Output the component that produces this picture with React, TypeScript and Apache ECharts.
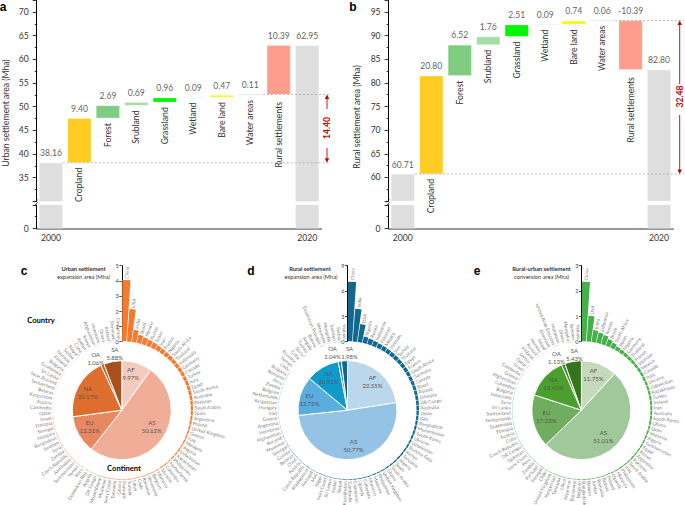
import React, { useEffect, useRef } from "react";
import * as echarts from "echarts";

const FONT = "Lato";

// ---- waterfall data ----
const stepNames = ["2000", "Cropland", "Forest", "Srubland", "Grassland", "Wetland", "Bare land", "Water areas", "Rural settlements", "2020"];
const urbanStart = 38.16;
const urbanDeltas = [9.4, 2.69, 0.69, 0.96, 0.09, 0.47, 0.11, 10.39];
const urbanEnd = 62.95;
const ruralStart = 60.71;
const ruralDeltas = [20.8, 6.52, 1.76, 2.51, 0.09, 0.74, 0.06, -10.39];
const ruralEnd = 82.8;
const stepColors = ["#DEDEDE", "#FFCC22", "#80CC80", "#A6DCA6", "#00F500", "#A8F5F5", "#F8F800", "#B4C7E7", "#FF9C8C", "#DEDEDE"];

// ---- country bars ----
const countriesC = ["China","USA","India","Brazil","Mexico","Russia","Japan","Iran","France","Nigeria","South Africa","Thailand","Indonesia","Germany","Canada","Turkey","Italy","Egypt","South Korea","Australia","Pakistan","Saudi Arabia","Spain","Argentina","Poland","United Kingdom","Greece","Iraq","Malaysia","Algeria","Uzbekistan","Kazakhstan","Philippines","Netherlands","Colombia","Ukraine","Morocco","Belgium","Venezuela","Romania","Chile","Libya","Tunisia","Portugal","Ghana","Tanzania","Ivory Coast","Myanmar","Mozambique","DR Congo","Angola","Dominican Rep.","Peru","Yemen","Turkmenistan","Azerbaijan","Czech Republic","Zambia","Syria","Sweden","Bangladesh","Hungary","Senegal","Ethiopia","Israel","Qatar","Cambodia","Austria","Kyrgyzstan","Belarus","Switzerland","New Zealand","Sri Lanka","Guatemala","Bulgaria","Finland","Norway","Serbia","Nepal","Cuba","Jordan","Kenya","Afghanistan","Honduras","Oman","Ireland","Denmark","Cameroon"];
const valuesC = [4.05,2.15,.82,.55,.48,.42,.38,.34,.31,.29,
  .27,.25,.24,.23,.22,.21,.2,.19,.18,.17,
  .16,.15,.14,.13,.12,.11,.1,.09,.09,.08,
  .08,.07,.07,.06,.06,.06,.05,.05,.05,.04,
  .04,.04,.04,.03,.03,.03,.03,.03,.03,.02,
  .02,.02,.02,.02,.02,.02,.02,.02,.02,.02,
  .02,.02,.02,.02,.02,.01,.01,.01,.01,.01,
  .01,.01,.01,.01,.01,.01,.01,.01,.01,.01,
  .01,.01,.01,.01,.01,.01,.01,.01];
const countriesD = ["China","India","USA","Nigeria","Russia","Indonesia","Pakistan","Mexico","Vietnam","Iran","Turkey","Thailand","Egypt","France","South Africa","Germany","Canada","Brazil","Poland","Ethiopia","DR Congo","Australia","Japan","Italy","Bangladesh","Mozambique","South Korea","Ukraine","Uzbekistan","Burkina Faso","Kenya","Tanzania","Algeria","Spain","Saudi Arabia","Ghana","United Kingdom","Philippines","Malaysia","Morocco","Colombia","Uganda","Cameroon","Cambodia","Kazakhstan","Nepal","Sudan","Sri Lanka","Ivory Coast","Niger","Mali","Portugal","Madagascar","Czech Republic","Austria","Chad","Belarus","Guinea","Senegal","Myanmar","Burundi","Afghanistan","Honduras","Argentina","Greece","Iraq","Hungary","Kyrgyzstan","Netherlands","Belgium","Zambia","Peru","Romania","Bulgaria","Chile","Yemen","Ecuador","Cuba","Syria","Tunisia","Angola","Bolivia","Dominican Republic","Venezuela","Mongolia","Sweden","Serbia","Malawi"];
const valuesD = [7.1,3.9,2.15,.78,.7,.62,.58,.55,.52,.5,
  .48,.46,.44,.42,.4,.38,.36,.35,.34,.33,
  .32,.3,.28,.27,.26,.25,.24,.22,.21,.2,
  .19,.18,.17,.16,.15,.14,.13,.12,.11,.1,
  .1,.09,.09,.08,.08,.07,.07,.06,.06,.06,
  .05,.05,.05,.04,.04,.04,.04,.03,.03,.03,
  .03,.03,.02,.02,.02,.02,.02,.02,.02,.02,
  .02,.02,.02,.02,.01,.01,.01,.01,.01,.01,
  .01,.01,.01,.01,.01,.01,.01,.01];
const countriesE = ["China","USA","India","Indonesia","Russia","Brazil","South Africa","Japan","Nigeria","Germany","Thailand","France","Vietnam","Mexico","Canada","Italy","Ukraine","Uzbekistan","Kazakhstan","Turkey","Ireland","Iran","Australia","South Korea","Ghana","Spain","Malaysia","Algeria","Turkmenistan","Egypt","Kenya","Argentina","Pakistan","Saudi Arabia","Iraq","Philippines","Morocco","Uganda","Poland","Bolivia","Romania","Jordan","Belarus","Bangladesh","Belgium","Botswana","Myanmar","Libya","Tanzania","Kyrgyzstan","United Kingdom","Chile","Senegal","Portugal","Zambia","Peru","Ivory Coast","Tajikistan","DR Congo","Czech Republic","Cuba","Austria","Ethiopia","Guatemala","Netherlands","Switzerland","Sri Lanka","Syria","Venezuela","Bulgaria","Colombia","Afghanistan","Greece","Cambodia","Israel","Qatar","Serbia","Finland","Kuwait","Norway","Nepal","Denmark","United Arab Emirates","Honduras","Oman","Mongolia","Sweden","Malawi"];
const valuesE = [2.36,1.02,.48,.42,.38,.28,.22,.16,.14,.13,
  .12,.11,.1,.098,.095,.09,.088,.085,.082,.08,
  .078,.076,.074,.072,.07,.067,.064,.06,.058,.055,
  .052,.05,.048,.045,.042,.04,.038,.036,.034,.032,
  .03,.028,.026,.025,.024,.023,.022,.021,.02,.02,
  .019,.018,.017,.016,.015,.015,.014,.014,.013,.013,
  .012,.012,.011,.011,.01,.01,.01,.009,.009,.009,
  .008,.008,.008,.007,.007,.007,.006,.006,.006,.006,
  .005,.005,.005,.005,.005,.005,.005,.005];

// ---- continents ----
const continents = ["AF", "AS", "EU", "NA", "OA", "SA"];
const sharesC = [9.97, 50.62, 12.31, 20.17, 1.06, 5.88];
const sharesD = [22.55, 50.77, 12.75, 10.91, 1.04, 1.98];
const sharesE = [11.75, 51.01, 17.23, 13.45, 1.13, 5.43];
const pieColorsC = ["#F5CBBF", "#F0AE98", "#E88860", "#DE6E2E", "#C8612A", "#A8511F"];
const pieColorsD = ["#BBD7EC", "#95C3E6", "#5AAEDF", "#109ACC", "#1C86B5", "#0F6690"];
const pieColorsE = ["#C5DABB", "#A0C89A", "#70AD5E", "#4A9F2D", "#3F8A28", "#33741E"];
// label offsets from each pie's centre, in px
const pieLabelOffsetsC = [[9, -37], [30, 16], [-32, 16], [-34, -18], [-26, -52], [-7, -57]];
const pieLabelOffsetsD = [[25, -29], [6, 35], [-38, -11], [-19, -33], [-15, -58], [2, -58]];
const pieLabelOffsetsE = [[12, -36], [22, 26], [-35, 6], [-28, -27], [-25, -53], [-7, -56]];

const TXT = "#333";

function buildSteps(start: number, deltas: number[], end: number) {
  const base = [0];
  const size = [start];
  const tops = [start];
  const shown = [start];
  let run = start;
  deltas.forEach((d) => {
    const next = run + d;
    base.push(Math.min(run, next));
    size.push(Math.abs(d));
    tops.push(Math.max(run, next));
    shown.push(d);
    run = next;
  });
  base.push(0);
  size.push(end);
  tops.push(end);
  shown.push(end);
  return { base, size, tops, shown };
}

type WF = {
  gi: number; left: number; width: number; upperTop: number; upperBottom: number; lowerTop: number;
  min: number; max: number; start: number; deltas: number[]; end: number;
  lineLo: number; lineHi: number; dashLoFrom: number; dashHiFrom: number; dashTo: number;
  arrowX: number; total: string; gapTop: number; gapBottom: number; textY: number; ruralDist: number;
};

function waterfall(o: WF, out: any) {
  const s = buildSteps(o.start, o.deltas, o.end);
  const upper = o.gi;
  const lower = o.gi + 1;
  const axisFont = { fontFamily: FONT, fontSize: 8.6, color: TXT };
  out.grid.push(
    { left: o.left, width: o.width, top: o.upperTop, height: o.upperBottom - o.upperTop },
    { left: o.left, width: o.width, top: o.lowerTop, height: 228.5 - o.lowerTop }
  );
  out.xAxis.push(
    { gridIndex: upper, type: "category", data: stepNames, show: false },
    {
      gridIndex: lower, type: "category", data: stepNames,
      axisLine: { lineStyle: { color: "#777", width: 1.6 } }, axisTick: { show: false },
      axisLabel: { ...axisFont, interval: 0, margin: 5, formatter: (v: string) => (/^\d+$/.test(v) ? v : "") },
    }
  );
  const yCommon = {
    type: "value", interval: 5,
    axisLine: { show: true, lineStyle: { color: "#000", width: 1 } },
    axisTick: { show: true, length: 4, lineStyle: { color: "#000", width: 0.8 } },
    minorTick: { show: true, splitNumber: 2, length: 2, lineStyle: { color: "#000", width: 0.8 } },
    splitLine: { show: false }, minorSplitLine: { show: false },
  };
  out.yAxis.push(
    { ...yCommon, gridIndex: upper, min: o.min, max: o.max, axisLabel: { ...axisFont, margin: 8, showMaxLabel: false, formatter: (v: number) => (v === o.min || v === o.max ? "" : String(v)) } },
    { ...yCommon, gridIndex: lower, min: 0, max: 5, axisLabel: { ...axisFont, margin: 8, formatter: (v: number) => (v === 0 ? "0" : "") } }
  );
  const colored = s.size.map((v, i) => ({ value: v, itemStyle: { color: stepColors[i], borderColor: "rgba(255,255,255,0.5)", borderWidth: 0.5 } }));
  [upper, lower].forEach((g) => {
    const stack = "w" + g;
    out.series.push(
      { type: "bar", xAxisIndex: g, yAxisIndex: g, stack, data: s.base, barWidth: 23.7, barMinHeight: 0, itemStyle: { color: "transparent" }, silent: true },
      {
        type: "bar", xAxisIndex: g, yAxisIndex: g, stack, barWidth: 23.7, barMinHeight: 1,
        data: colored.map((d, i) => {
          const isYear = i === 0 || i === stepNames.length - 1;
          return g === upper && !isYear
            ? {
                ...d,
                label: {
                  show: true, position: "bottom", distance: i === 8 ? o.ruralDist : 5, rotate: 90, align: "right", verticalAlign: "middle",
                  formatter: stepNames[i], fontFamily: FONT, fontSize: 8.6, color: TXT,
                },
              }
            : d;
        }),
      }
    );
  });
  out.series.push({
    type: "scatter", xAxisIndex: upper, yAxisIndex: upper, symbolSize: 1, itemStyle: { color: "transparent" },
    data: s.tops.map((t, i) => ({
      value: [i, t],
      label: { show: true, position: "top", distance: 4.5, formatter: s.shown[i].toFixed(2), fontFamily: FONT, fontSize: 8.6, color: TXT },
    })),
  });
  const red = "#C00000";
  out.series.push({
    type: "custom", xAxisIndex: upper, yAxisIndex: upper, data: [[0, o.lineLo]], z: 5, silent: true,
    renderItem: (_p: any, api: any) => {
      const yLo = api.coord([0, o.lineLo])[1];
      const yHi = api.coord([0, o.lineHi])[1];
      const dash = { stroke: "#ABABAB", lineWidth: 0.8, lineDash: [2, 2] };
      const ax = o.arrowX;
      return {
        type: "group",
        children: [
          { type: "line", shape: { x1: o.dashLoFrom, y1: yLo, x2: o.dashTo, y2: yLo }, style: dash },
          { type: "line", shape: { x1: o.dashHiFrom, y1: yHi, x2: o.dashTo, y2: yHi }, style: dash },
          { type: "line", shape: { x1: ax, y1: yHi + 3, x2: ax, y2: o.gapTop }, style: { stroke: red, lineWidth: 0.9 } },
          { type: "line", shape: { x1: ax, y1: o.gapBottom, x2: ax, y2: yLo - 3 }, style: { stroke: red, lineWidth: 0.9 } },
          { type: "polygon", shape: { points: [[ax, yHi], [ax - 2.2, yHi + 4.5], [ax + 2.2, yHi + 4.5]] }, style: { fill: red } },
          { type: "polygon", shape: { points: [[ax, yLo], [ax - 2.2, yLo - 4.5], [ax + 2.2, yLo - 4.5]] }, style: { fill: red } },
          {
            type: "text", x: ax, y: o.textY, rotation: Math.PI / 2,
            style: { text: o.total, align: "center", verticalAlign: "middle", fill: red, font: `bold 8.6px ${FONT}` },
          },
        ],
      };
    },
  });
}

type Ring = {
  pi: number; cx: number; names: string[]; values: number[]; max: number; interval: number; color: string;
  shares: number[]; pieColors: string[]; offsets: number[][];
};

const CY = 410.2;
const R0 = 69;
const R1 = 144.5;

function ring(o: Ring, out: any) {
  const n = o.names.length;
  const step = 360 / n;
  out.polar.push({ center: [o.cx, CY], radius: [R0, R1] });
  out.angleAxis.push({ polarIndex: o.pi, type: "category", data: o.names, startAngle: 90, clockwise: true, show: false, axisLine: { show: false }, splitLine: { show: false } });
  out.radiusAxis.push({
    polarIndex: o.pi, type: "value", min: 0, max: o.max, interval: o.interval,
    axisLine: { show: true, lineStyle: { color: "#000", width: 1 } },
    axisTick: { show: true, length: 2.5, lineStyle: { color: "#000", width: 0.7 } },
    axisLabel: { fontFamily: FONT, fontSize: 5.6, color: "#444", margin: 3 },
    splitLine: { show: false },
  });
  out.series.push({
    type: "bar", coordinateSystem: "polar", polarIndex: o.pi, data: o.values, barCategoryGap: "12%",
    itemStyle: { color: o.color }, silent: true,
  });
  const gap = (1.5 * o.max) / (R1 - R0);
  out.series.push({
    type: "scatter", coordinateSystem: "polar", polarIndex: o.pi, symbolSize: 1, itemStyle: { color: "transparent" }, silent: true,
    data: o.names.map((name, i) => {
      const theta = (i + 0.5) * step;
      const right = theta < 180;
      return {
        value: [o.values[i] + gap, i],
        label: {
          show: true, position: "inside", formatter: name, rotate: right ? 90 - theta : 270 - theta,
          align: right ? "left" : "right", verticalAlign: "middle", fontFamily: FONT, fontSize: 4.8, color: "#555",
        },
      };
    }),
  });
  out.series.push({
    type: "pie", center: [o.cx, CY], radius: 49.5, startAngle: 90, clockwise: true, silent: true,
    itemStyle: { borderColor: "#fff", borderWidth: 1 }, labelLine: { show: false },
    data: continents.map((c, i) => ({ name: c, value: o.shares[i], itemStyle: { color: o.pieColors[i] } })),
    label: {
      show: true, position: "inside", formatter: (p: any) => `${p.name}\n${o.shares[p.dataIndex].toFixed(2)}%`,
      fontFamily: FONT, fontSize: 6, lineHeight: 8, color: "#555", align: "center",
    },
    labelLayout: (p: any) => ({
      x: o.cx + o.offsets[p.dataIndex][0], y: CY + o.offsets[p.dataIndex][1], align: "center", verticalAlign: "middle",
    }),
  });
}

function txt(text: string, x: number, y: number, font: string, extra: any = {}, fill = TXT) {
  return { type: "text", x, y, rotation: extra.rotation || 0, silent: true, style: { text, align: extra.align || "center", verticalAlign: "middle", fill, font } };
}

export default function App() {
  const ref = useRef<HTMLDivElement>(null);
  useEffect(() => {
    document.body.style.margin = "0";
    const chart = echarts.init(ref.current!, undefined, { renderer: "svg" });
    const out: any = { grid: [], xAxis: [], yAxis: [], polar: [], angleAxis: [], radiusAxis: [], series: [] };
    waterfall({ gi: 0, left: 36.7, width: 284.7, upperTop: 0.2, upperBottom: 201.4, lowerTop: 204.8, min: 30, max: 72.5, start: urbanStart, deltas: urbanDeltas, end: urbanEnd, lineLo: urbanStart, lineHi: 52.57, dashLoFrom: 62.7, dashHiFrom: 263, dashTo: 330, arrowX: 327, total: "14.40", gapTop: 109, gapBottom: 148, textY: 128, ruralDist: 7.5 }, out);
    waterfall({ gi: 2, left: 388.6, width: 284.7, upperTop: 0.2, upperBottom: 201, lowerTop: 204.8, min: 55, max: 97.5, start: ruralStart, deltas: ruralDeltas, end: ruralEnd, lineLo: ruralStart, lineHi: 93.19, dashLoFrom: 415, dashHiFrom: 615, dashTo: 684, arrowX: 679.7, total: "32.48", gapTop: 84, gapBottom: 115, textY: 96.5, ruralDist: 7.5 }, out);
    ring({ pi: 0, cx: 121.8, names: countriesC, values: valuesC, max: 5, interval: 1, color: "#F47A30", shares: sharesC, pieColors: pieColorsC, offsets: pieLabelOffsetsC }, out);
    ring({ pi: 1, cx: 347.5, names: countriesD, values: valuesD, max: 9, interval: 3, color: "#12688F", shares: sharesD, pieColors: pieColorsD, offsets: pieLabelOffsetsD }, out);
    ring({ pi: 2, cx: 581.4, names: countriesE, values: valuesE, max: 3, interval: 1, color: "#43B04A", shares: sharesE, pieColors: pieColorsE, offsets: pieLabelOffsetsE }, out);

    const letter = `bold 12px "Liberation Sans"`;
    const caption = `5.7px ${FONT}`;
    const captionBold = `bold 5.7px ${FONT}`;
    const strong = `bold 7.6px ${FONT}`;
    const axisTitle = `8.6px ${FONT}`;
    const breakMark = (x: number) => [
      { type: "line", silent: true, shape: { x1: x - 2, y1: 202.4, x2: x + 1, y2: 199.6 }, style: { stroke: "#000", lineWidth: 0.7 } },
      { type: "line", silent: true, shape: { x1: x - 2, y1: 205.4, x2: x + 1, y2: 202.6 }, style: { stroke: "#000", lineWidth: 0.7 } },
    ];
    chart.setOption({
      animation: false,
      backgroundColor: "#fff",
      textStyle: { fontFamily: FONT },
      ...out,
      graphic: [
        txt("a", 3, 7, letter, {}, "#000"),
        txt("b", 353, 7, letter, {}, "#000"),
        txt("c", 24, 271, letter, {}, "#000"),
        txt("d", 251, 271, letter, {}, "#000"),
        txt("e", 477, 271, letter, {}, "#000"),
        txt("Urban settlement area (Mha)", 5.5, 113, axisTitle, { rotation: Math.PI / 2 }),
        txt("Rural settlement area (Mha)", 357, 117, axisTitle, { rotation: Math.PI / 2 }),
        txt("Urban settlement", 83.5, 268.5, captionBold),
        txt("expansion area (Mha)", 83.5, 276.5, caption),
        txt("Rural settlement", 310, 268.5, captionBold),
        txt("expansion area (Mha)", 311, 276.5, caption),
        txt("Rural-urban settlement", 541.5, 268.5, captionBold),
        txt("conversion area (Mha)", 541.5, 276.5, caption),
        txt("Country", 41, 319.5, strong, {}, "#000"),
        txt("Continent", 124, 468, strong, {}, "#000"),
        ...breakMark(36.7),
        ...breakMark(388.6),
      ],
    });
    return () => chart.dispose();
  }, []);
  return <div ref={ref} style={{ position: "absolute", left: 0, top: 0, width: 685, height: 505 }} />;
}
